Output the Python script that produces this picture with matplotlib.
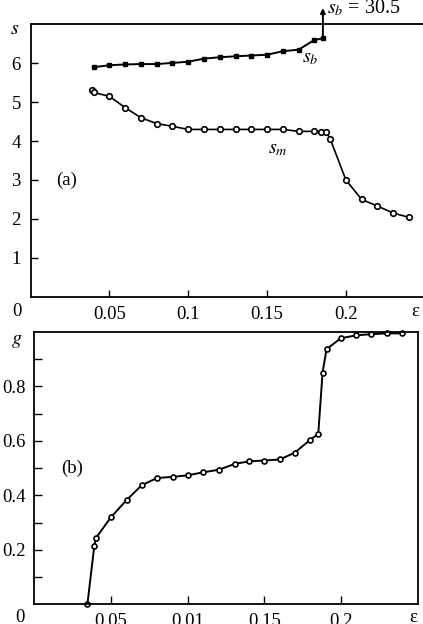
import matplotlib
matplotlib.use("Agg")
import matplotlib.pyplot as plt

plt.rcParams['font.family'] = ['Liberation Serif', 'DejaVu Serif']
plt.rcParams['mathtext.fontset'] = 'stix'

# panel (a): s_b (filled squares) and s_m (open circles)
eps_b = [0.04, 0.05, 0.06, 0.07, 0.08, 0.09, 0.10, 0.11, 0.12, 0.13, 0.14,
         0.15, 0.16, 0.17, 0.18, 0.1854]
s_b = [5.90, 5.95, 5.97, 5.98, 5.98, 6.01, 6.04, 6.12, 6.155, 6.18, 6.20,
       6.22, 6.31, 6.35, 6.60, 6.64]
s_b_top = 7.42

eps_m = [0.039, 0.04, 0.05, 0.06, 0.07, 0.08, 0.09, 0.10, 0.11, 0.12, 0.13,
         0.14, 0.15, 0.16, 0.17, 0.18, 0.1843, 0.1875, 0.19, 0.20, 0.21,
         0.22, 0.23, 0.24]
s_m = [5.31, 5.25, 5.15, 4.86, 4.60, 4.45, 4.38, 4.30, 4.30, 4.30, 4.30,
       4.30, 4.30, 4.30, 4.25, 4.25, 4.24, 4.24, 4.06, 3.00, 2.50, 2.33,
       2.15, 2.04]

# panel (b): g
eps_g = [0.0346, 0.0391, 0.0402, 0.050, 0.0602, 0.0702, 0.0802, 0.0903,
         0.1005, 0.1103, 0.1203, 0.131, 0.1403, 0.150, 0.1603, 0.170, 0.180,
         0.1853, 0.1881, 0.1907, 0.200, 0.2102, 0.220, 0.230, 0.240]
g = [0.0, 0.215, 0.244, 0.320, 0.383, 0.438, 0.464, 0.468, 0.474, 0.485,
     0.494, 0.516, 0.525, 0.528, 0.532, 0.557, 0.604, 0.626, 0.851, 0.937,
     0.977, 0.988, 0.992, 0.995, 0.995]

W, H = 423, 624
fig = plt.figure(figsize=(W / 100, H / 100), dpi=100)
fs = 13.5

# ---- panel (a)
ax1 = fig.add_axes([30.6 / W, (H - 296.7) / H, (W - 30.6) / W, (296.7 - 24) / H])
ax1.plot(eps_b, s_b, '-s', color='black', lw=1.4, ms=3)
ax1.annotate('', xy=(eps_b[-1], s_b_top), xytext=(eps_b[-1], s_b[-1]),
             arrowprops=dict(arrowstyle='-|>', color='black', lw=1.4,
                             mutation_scale=7, shrinkA=0, shrinkB=0),
             annotation_clip=False)
ax1.plot(eps_m, s_m, '-o', color='black', lw=1.2, ms=4, mfc='white', mew=1.2)
ax1.set_xlim(0, 0.2489)
ax1.set_ylim(0, 7.01)
ax1.spines['right'].set_visible(False)
ax1.set_xticks([0.05, 0.1, 0.15, 0.2])
ax1.set_xticklabels(['0.05', '0.1', '0.15', '0.2'])
ax1.set_yticks([1, 2, 3, 4, 5, 6])
ax1.tick_params(direction='in', length=5, width=1, labelsize=fs, pad=7)
ax1.text(17, H - 311, '0', transform=None, fontsize=fs, ha='center', va='center')
ax1.text(415, H - 311, 'ε', fontsize=fs, ha='center', va='center',
         transform=None)
ax1.text(15, H - 30, r'$s$', fontsize=fs + 1, ha='center', va='center',
         transform=None)
ax1.text(0.023, 3.0, '(a)', fontsize=fs, ha='center', va='center')
ax1.text(0.1773, 6.15, r'$s_b$', fontsize=fs + 1, ha='center', va='center')
ax1.text(0.157, 3.8, r'$s_m$', fontsize=fs + 1, ha='center', va='center')
ax1.text(0.188, s_b_top, r'$s_b$ = 30.5', fontsize=fs + 1, ha='left',
         va='center', clip_on=False)
for sp in ax1.spines.values():
    sp.set_linewidth(1.3)

# ---- panel (b)
ax2 = fig.add_axes([34.4 / W, (H - 604.3) / H, (417.7 - 34.4) / W, (604.3 - 332) / H])
ax2.plot(eps_g, g, '-o', color='black', lw=1.4, ms=3.6, mfc='white', mew=1.2,
         clip_on=False)
ax2.set_xlim(0, 0.2502)
ax2.set_ylim(0, 1.0)
ax2.set_xticks([0.05, 0.1, 0.15, 0.2])
ax2.set_xticklabels(['0.05', '0.01', '0.15', '0.2'])
ax2.set_yticks([0.2, 0.4, 0.6, 0.8])
ax2.set_yticklabels(['0.2', '0.4', '0.6', '0.8'])
ax2.set_yticks([0.1, 0.3, 0.5, 0.7, 0.9], minor=True)
ax2.tick_params(which='both', direction='in', length=6, width=1,
                labelsize=fs, pad=6)
ax2.text(20, H - 617, '0', transform=None, fontsize=fs, ha='center', va='center')
ax2.text(413, H - 617, 'ε', transform=None, fontsize=fs, ha='center', va='center')
ax2.text(17, H - 340, r'$g$', transform=None, fontsize=fs + 1, ha='center',
         va='center')
ax2.text(0.0245, 0.50, '(b)', fontsize=fs, ha='center', va='center')
for sp in ax2.spines.values():
    sp.set_linewidth(1.3)

fig.savefig('out.png', dpi=100)
